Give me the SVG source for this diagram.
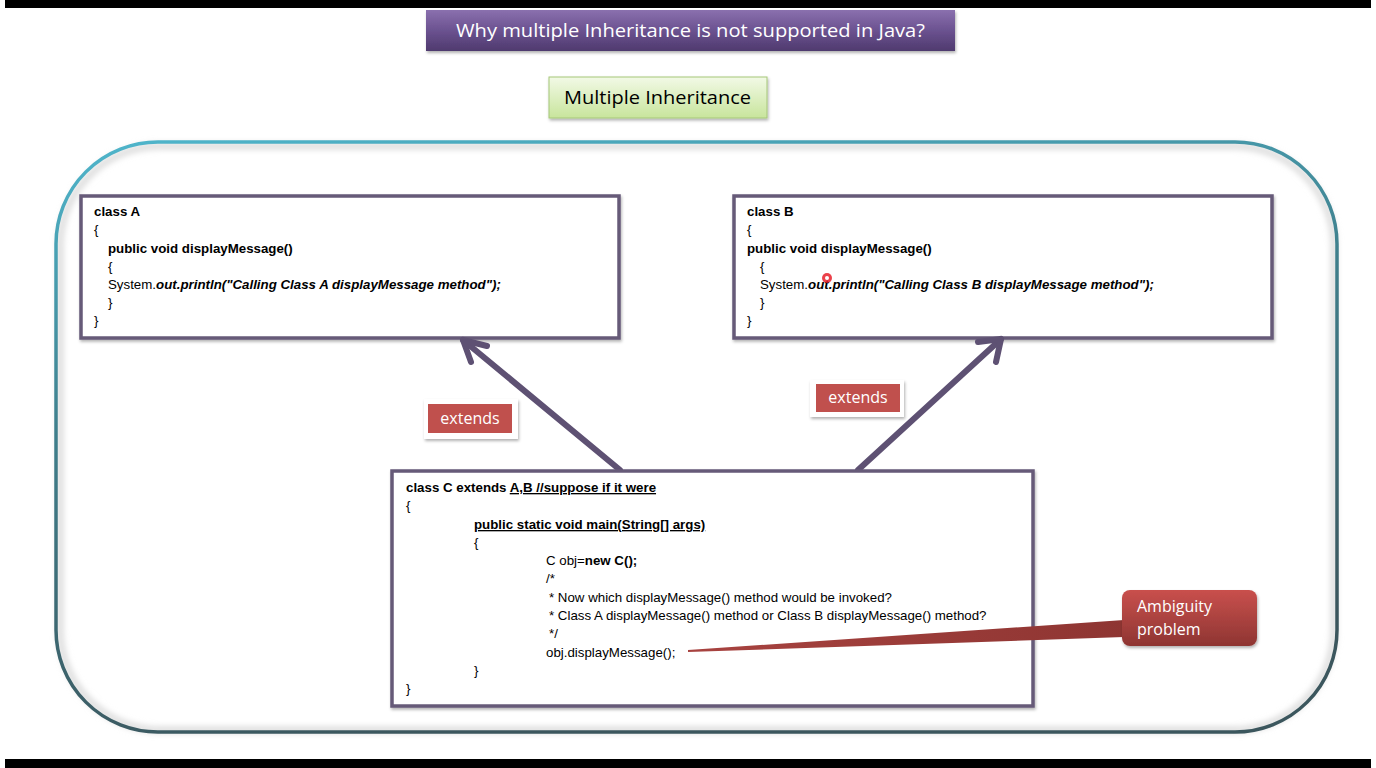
<svg xmlns="http://www.w3.org/2000/svg" width="1376" height="768" viewBox="0 0 1376 768">
<defs>
<linearGradient id="gTitle" x1="0" y1="0" x2="0" y2="1">
<stop offset="0" stop-color="#8a70ae"/><stop offset="0.5" stop-color="#6b5290"/><stop offset="1" stop-color="#4f3a6e"/>
</linearGradient>
<linearGradient id="gGreen" x1="0" y1="0" x2="0" y2="1">
<stop offset="0" stop-color="#f2f9e6"/><stop offset="1" stop-color="#c8e59c"/>
</linearGradient>
<linearGradient id="gRed" x1="0" y1="0" x2="0" y2="1">
<stop offset="0" stop-color="#c9504d"/><stop offset="1" stop-color="#8e3532"/>
</linearGradient>
<linearGradient id="gWedge" x1="0" y1="0" x2="1" y2="0">
<stop offset="0" stop-color="#a84340"/><stop offset="1" stop-color="#8e3532"/>
</linearGradient>
<linearGradient id="gOuter" x1="0" y1="0" x2="0.3" y2="1">
<stop offset="0" stop-color="#4fb6cc"/><stop offset="0.45" stop-color="#3f7f8c"/><stop offset="1" stop-color="#3b565d"/>
</linearGradient>
<filter id="sh" x="-10%" y="-10%" width="120%" height="130%">
<feDropShadow dx="1" dy="2" stdDeviation="1.5" flood-color="#000" flood-opacity="0.3"/>
</filter>
<filter id="inner" x="-5%" y="-5%" width="110%" height="110%">
<feGaussianBlur stdDeviation="3"/>
</filter>
</defs>
<style>
.code{font-family:"Liberation Sans",Arial,sans-serif;font-size:13.3px;fill:#000}
.b{font-weight:bold}
.bi{font-weight:bold;font-style:italic}
.box{fill:#fff;stroke:#665a78;stroke-width:3.5}
.arrow{fill:none;stroke:#5e5173;stroke-width:6;stroke-linecap:round;stroke-linejoin:round}
.lbl{font-family:"Open Sans","Liberation Sans",sans-serif;fill:#fff}
</style>
<rect x="0" y="0" width="1376" height="768" fill="#fff"/>
<rect x="5" y="0" width="1366" height="8" fill="#000"/>
<rect x="5" y="759" width="1366" height="9" fill="#000"/>

<g id="title">
<rect x="426" y="10" width="529" height="41" fill="url(#gTitle)" filter="url(#sh)"/>
<text x="690.5" y="37" text-anchor="middle" class="lbl" font-size="19" textLength="469" lengthAdjust="spacingAndGlyphs">Why multiple Inheritance is not supported in Java?</text>
</g>

<g id="subtitle">
<rect x="549" y="77" width="218" height="41" fill="url(#gGreen)" stroke="#a6c778" stroke-width="1" filter="url(#sh)"/>
<text x="657.5" y="104" text-anchor="middle" font-family="'Open Sans','Liberation Sans',sans-serif" font-size="19" fill="#000" textLength="187" lengthAdjust="spacingAndGlyphs">Multiple Inheritance</text>
</g>

<g id="container">
<rect x="60" y="146" width="1274" height="584" rx="100" ry="100" fill="none" stroke="#d8d8d8" stroke-width="6" filter="url(#inner)"/>
<rect x="56" y="142" width="1281" height="590" rx="102" ry="102" fill="none" stroke="url(#gOuter)" stroke-width="3.5"/>
</g>

<g id="classA">
<rect x="81" y="196" width="538" height="142" class="box" filter="url(#sh)"/>
<text class="code b" x="94" y="216">class A</text>
<text class="code" x="94" y="234">{</text>
<text class="code b" x="108" y="253">public void displayMessage()</text>
<text class="code" x="108" y="271">{</text>
<text class="code" x="108" y="289">System.<tspan class="bi">out.println("Calling Class A displayMessage method");</tspan></text>
<text class="code" x="108" y="307">}</text>
<text class="code" x="94" y="325">}</text>
</g>

<g id="classB">
<rect x="734" y="196" width="538" height="142" class="box" filter="url(#sh)"/>
<text class="code b" x="747" y="216">class B</text>
<text class="code" x="747" y="234">{</text>
<text class="code b" x="747" y="253">public void displayMessage()</text>
<text class="code" x="760" y="271">{</text>
<text class="code" x="760" y="289">System.<tspan class="bi">out.println("Calling Class B displayMessage method");</tspan></text>
<text class="code" x="760" y="307">}</text>
<text class="code" x="747" y="325">}</text>
<circle cx="827" cy="278" r="5" fill="#e8202a" opacity="0.85"/>
<circle cx="827" cy="278" r="2" fill="#fff"/>
</g>

<g id="connectors">
<path class="arrow" d="M620,470 L463,340"/>
<path class="arrow" d="M487,346 L463,340 L471,362"/>
<path class="arrow" d="M858,470 L1001,339"/>
<path class="arrow" d="M978,342 L1001,339 L996,362"/>
</g>

<g id="extendsA">
<rect x="424" y="399" width="94" height="40" fill="#fff" filter="url(#sh)"/>
<rect x="428" y="404" width="84" height="29" fill="#c0504d"/>
<text x="470" y="424" text-anchor="middle" class="lbl" font-size="16">extends</text>
</g>

<g id="extendsB">
<rect x="810" y="380" width="94" height="37" fill="#fff" filter="url(#sh)"/>
<rect x="816" y="384" width="84" height="28" fill="#c0504d"/>
<text x="858" y="403" text-anchor="middle" class="lbl" font-size="16">extends</text>
</g>

<g id="classC">
<rect x="392" y="471" width="641" height="235" class="box" filter="url(#sh)"/>
<text class="code" x="406" y="492"><tspan class="b">class C extends </tspan><tspan class="b" text-decoration="underline">A,B //suppose if it were</tspan></text>
<text class="code" x="406" y="510">{</text>
<text class="code b" x="474" y="529" text-decoration="underline">public static void main(String[] args)</text>
<text class="code" x="474" y="547">{</text>
<text class="code" x="546" y="565">C obj=<tspan class="b">new C();</tspan></text>
<text class="code" x="546" y="583">/*</text>
<text class="code" x="549" y="602">* Now which displayMessage() method would be invoked?</text>
<text class="code" x="549" y="620">* Class A displayMessage() method or Class B displayMessage() method?</text>
<text class="code" x="549" y="638">*/</text>
<text class="code" x="546" y="657">obj.displayMessage();</text>
<text class="code" x="474" y="675">}</text>
<text class="code" x="406" y="693">}</text>
</g>

<g id="ambiguity">
<polygon points="688,650 1124,620 1124,637 688,652" fill="url(#gWedge)"/>
<rect x="1122" y="590" width="135" height="56" rx="8" ry="8" fill="url(#gRed)" filter="url(#sh)"/>
<text x="1137" y="612" class="lbl" font-size="16">Ambiguity</text>
<text x="1137" y="635" class="lbl" font-size="16">problem</text>
</g>
</svg>
